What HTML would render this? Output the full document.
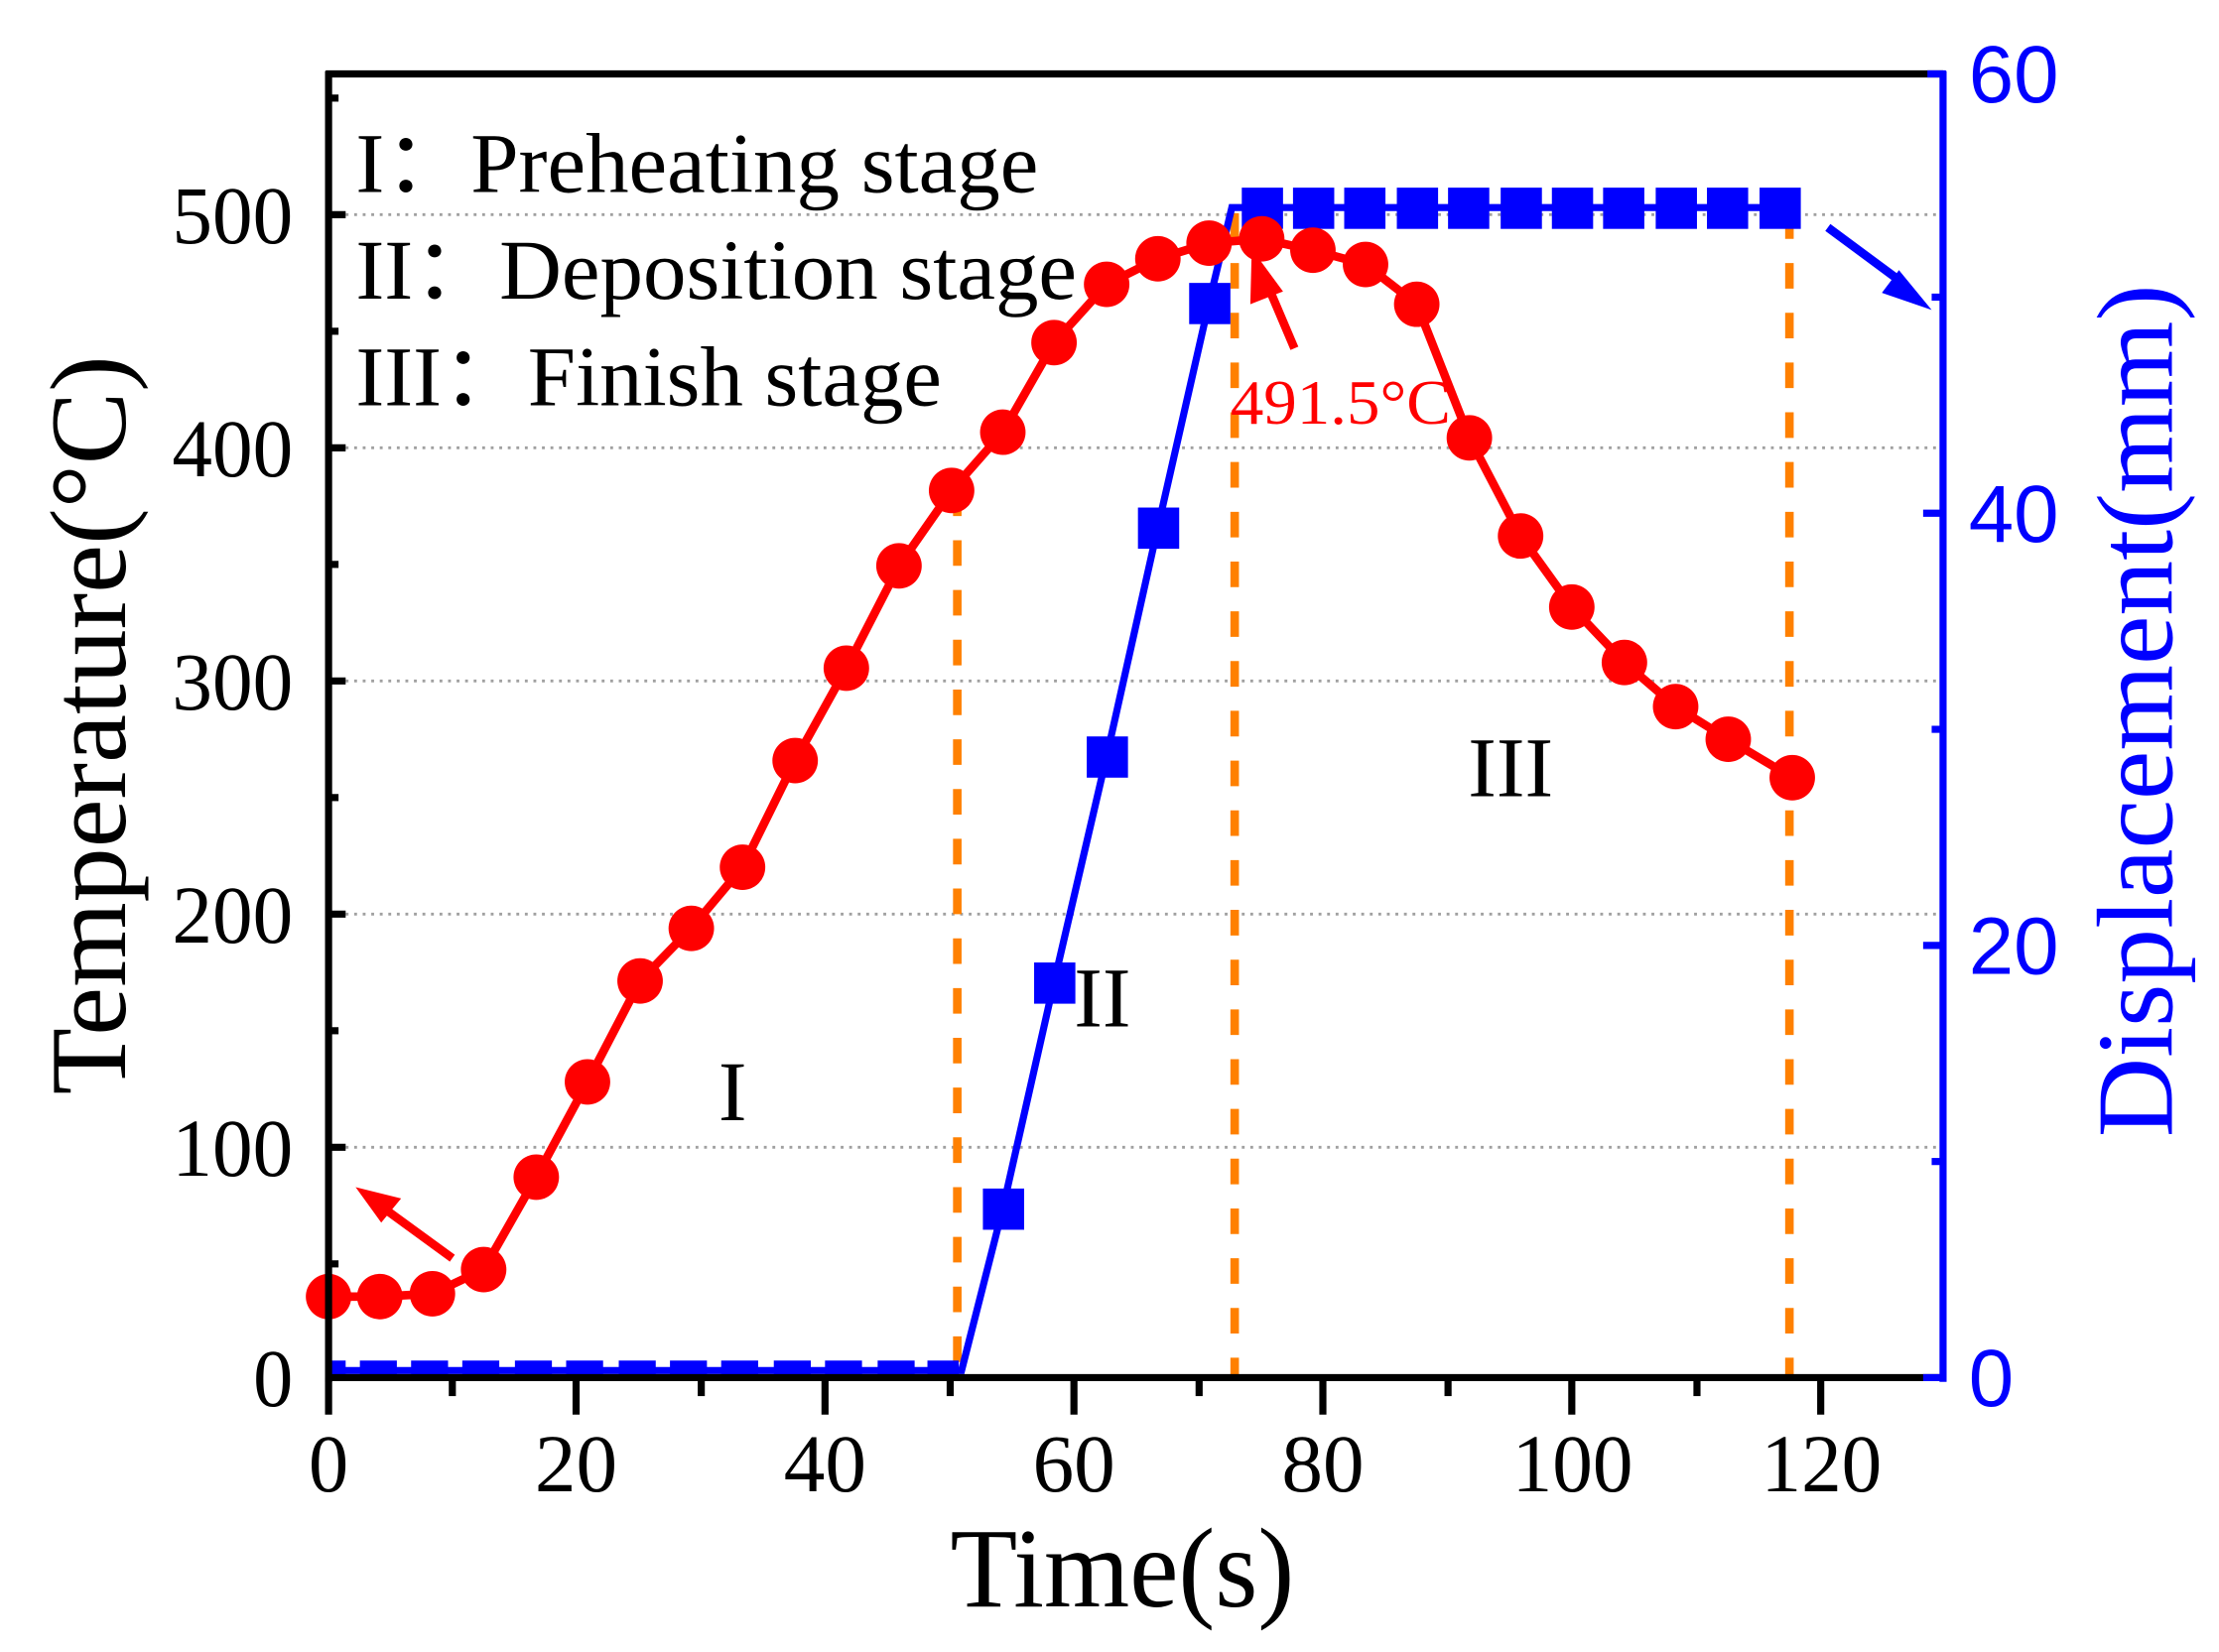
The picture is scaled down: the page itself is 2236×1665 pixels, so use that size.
<!DOCTYPE html>
<html><head><meta charset="utf-8"><style>html,body{margin:0;padding:0;background:#fff}svg{display:block}</style></head>
<body>
<svg width="2236" height="1665" viewBox="0 0 1560 1162" preserveAspectRatio="none" xmlns="http://www.w3.org/2000/svg">
<rect width="1560" height="1162" fill="#fff"/>
<g stroke="#a0a0a0" stroke-width="2" stroke-dasharray="2,4">
<line x1="231" x2="1366" y1="151" y2="151"/>
<line x1="231" x2="1366" y1="315" y2="315"/>
<line x1="231" x2="1366" y1="479" y2="479"/>
<line x1="231" x2="1366" y1="643" y2="643"/>
<line x1="231" x2="1366" y1="807" y2="807"/>
</g>
<g stroke="#ff8000" stroke-width="6" stroke-dasharray="18,17">
<line x1="673" x2="673" y1="345" y2="969"/>
<line x1="868" x2="868" y1="150" y2="969"/>
<line x1="1258" x2="1258" y1="150" y2="969"/>
</g>
<polyline fill="none" stroke="#0000ff" stroke-width="5" points="231,964 676,964 705,850 741,691 778,532 814,371 850,213 866,146 1255,146"/>
<g fill="#0000ff">
<rect x="231" y="957" width="12" height="14"/>
<rect x="253" y="957" width="26" height="14"/><rect x="289" y="957" width="26" height="14"/><rect x="325" y="957" width="26" height="14"/><rect x="362" y="957" width="26" height="14"/><rect x="398" y="957" width="26" height="14"/><rect x="435" y="957" width="26" height="14"/><rect x="471" y="957" width="26" height="14"/><rect x="507" y="957" width="26" height="14"/><rect x="544" y="957" width="26" height="14"/><rect x="580" y="957" width="26" height="14"/><rect x="617" y="957" width="26" height="14"/><rect x="652" y="957" width="22" height="14"/>
<rect x="691" y="836" width="29" height="29"/><rect x="727" y="677" width="29" height="29"/><rect x="764" y="518" width="29" height="29"/><rect x="800" y="357" width="29" height="29"/><rect x="836" y="199" width="29" height="29"/>
<rect x="873" y="132" width="29" height="29"/><rect x="909" y="132" width="29" height="29"/><rect x="945" y="132" width="29" height="29"/><rect x="982" y="132" width="29" height="29"/><rect x="1018" y="132" width="29" height="29"/><rect x="1055" y="132" width="29" height="29"/><rect x="1091" y="132" width="29" height="29"/><rect x="1127" y="132" width="29" height="29"/><rect x="1164" y="132" width="29" height="29"/><rect x="1200" y="132" width="29" height="29"/><rect x="1237" y="132" width="29" height="29"/>
</g>
<polyline fill="none" stroke="#ff0000" stroke-width="6" stroke-linejoin="round" points="231,912 267,912 304,910 340,893 377,828 413,761 450,690 486,653 522,610 559,535 595,470 632,398 669,345 705,304 741,241 778,200 814,182 850,171 887,168 923,176 960,186 996,214 1033,308 1069,377 1105,427 1142,466 1178,497 1215,520 1260,547"/>
<g fill="#ff0000">
<circle cx="231" cy="912" r="16"/><circle cx="267" cy="912" r="16"/><circle cx="304" cy="910" r="16"/><circle cx="340" cy="893" r="16"/><circle cx="377" cy="828" r="16"/><circle cx="413" cy="761" r="16"/><circle cx="450" cy="690" r="16"/><circle cx="486" cy="653" r="16"/><circle cx="522" cy="610" r="16"/><circle cx="559" cy="535" r="16"/><circle cx="595" cy="470" r="16"/><circle cx="632" cy="398" r="16"/><circle cx="669" cy="345" r="16"/><circle cx="705" cy="304" r="16"/><circle cx="741" cy="241" r="16"/><circle cx="778" cy="200" r="16"/><circle cx="814" cy="182" r="16"/><circle cx="850" cy="171" r="16"/><circle cx="887" cy="168" r="16"/><circle cx="923" cy="176" r="16"/><circle cx="960" cy="186" r="16"/><circle cx="996" cy="214" r="16"/><circle cx="1033" cy="308" r="16"/><circle cx="1069" cy="377" r="16"/><circle cx="1105" cy="427" r="16"/><circle cx="1142" cy="466" r="16"/><circle cx="1178" cy="497" r="16"/><circle cx="1215" cy="520" r="16"/><circle cx="1260" cy="547" r="16"/>
</g>
<line x1="318" y1="885" x2="270" y2="850" stroke="#ff0000" stroke-width="6"/>
<polygon points="250,835 282,843 268,860" fill="#ff0000"/>
<line x1="910" y1="245" x2="893" y2="205" stroke="#ff0000" stroke-width="6"/>
<polygon points="880,175 879,214 902,205" fill="#ff0000"/>
<line x1="1285" y1="160" x2="1335" y2="197" stroke="#0000ff" stroke-width="6"/>
<polygon points="1358,218 1323,206 1335,190" fill="#0000ff"/>
<line x1="229" y1="52" x2="1366" y2="52" stroke="#000" stroke-width="5"/>
<line x1="231" y1="50" x2="231" y2="972" stroke="#000" stroke-width="5"/>
<line x1="229" y1="969" x2="1366" y2="969" stroke="#000" stroke-width="5"/>
<line x1="1366" y1="50" x2="1366" y2="972" stroke="#0000ff" stroke-width="5"/>
<line x1="1355" y1="52" x2="1368" y2="52" stroke="#0000ff" stroke-width="5"/>
<g stroke="#000" stroke-width="5">
<line x1="231" y1="969" x2="231" y2="995"/><line x1="405" y1="969" x2="405" y2="995"/><line x1="580" y1="969" x2="580" y2="995"/><line x1="755" y1="969" x2="755" y2="995"/><line x1="930" y1="969" x2="930" y2="995"/><line x1="1105" y1="969" x2="1105" y2="995"/><line x1="1280" y1="969" x2="1280" y2="995"/>
<line x1="318" y1="969" x2="318" y2="982"/><line x1="493" y1="969" x2="493" y2="982"/><line x1="668" y1="969" x2="668" y2="982"/><line x1="843" y1="969" x2="843" y2="982"/><line x1="1018" y1="969" x2="1018" y2="982"/><line x1="1193" y1="969" x2="1193" y2="982"/>
</g>
<g stroke="#000" stroke-width="5">
<line x1="231" y1="151" x2="243" y2="151"/><line x1="231" y1="315" x2="243" y2="315"/><line x1="231" y1="479" x2="243" y2="479"/><line x1="231" y1="643" x2="243" y2="643"/><line x1="231" y1="807" x2="243" y2="807"/>
<line x1="231" y1="69" x2="238" y2="69"/><line x1="231" y1="233" x2="238" y2="233"/><line x1="231" y1="397" x2="238" y2="397"/><line x1="231" y1="561" x2="238" y2="561"/><line x1="231" y1="725" x2="238" y2="725"/><line x1="231" y1="889" x2="238" y2="889"/>
</g>
<g stroke="#0000ff" stroke-width="5">
<line x1="1352" y1="361" x2="1366" y2="361"/><line x1="1352" y1="665" x2="1366" y2="665"/><line x1="1352" y1="969" x2="1366" y2="969"/>
<line x1="1358" y1="209" x2="1366" y2="209"/><line x1="1358" y1="513" x2="1366" y2="513"/><line x1="1358" y1="817" x2="1366" y2="817"/>
</g>
<g font-family="Liberation Serif, serif" font-size="58" fill="#000" lengthAdjust="spacingAndGlyphs">
<text x="217" y="1049" textLength="28" lengthAdjust="spacingAndGlyphs">0</text>
<text x="376" y="1049" textLength="58" lengthAdjust="spacingAndGlyphs">20</text>
<text x="551" y="1049" textLength="58" lengthAdjust="spacingAndGlyphs">40</text>
<text x="726" y="1049" textLength="58" lengthAdjust="spacingAndGlyphs">60</text>
<text x="901" y="1049" textLength="58" lengthAdjust="spacingAndGlyphs">80</text>
<text x="1063" y="1049" textLength="85" lengthAdjust="spacingAndGlyphs">100</text>
<text x="1238" y="1049" textLength="85" lengthAdjust="spacingAndGlyphs">120</text>
<text x="178" y="989" textLength="28" lengthAdjust="spacingAndGlyphs">0</text>
<text x="121" y="827" textLength="85" lengthAdjust="spacingAndGlyphs">100</text>
<text x="121" y="663" textLength="85" lengthAdjust="spacingAndGlyphs">200</text>
<text x="121" y="499" textLength="85" lengthAdjust="spacingAndGlyphs">300</text>
<text x="121" y="335" textLength="85" lengthAdjust="spacingAndGlyphs">400</text>
<text x="121" y="171" textLength="85" lengthAdjust="spacingAndGlyphs">500</text>
</g>
<g font-family="Liberation Sans, sans-serif" font-size="57" fill="#0000ff">
<text x="1384" y="72">60</text><text x="1384" y="381">40</text><text x="1384" y="685">20</text><text x="1384" y="989">0</text>
</g>
<text x="668" y="1130" font-family="Liberation Serif, serif" font-size="80" textLength="242" lengthAdjust="spacingAndGlyphs">Time(s)</text>
<text transform="translate(88,510) rotate(-90)" font-family="Liberation Serif, serif" font-size="76" text-anchor="middle" textLength="520" lengthAdjust="spacingAndGlyphs">Temperature(°C)</text>
<text transform="translate(1527,500) rotate(-90)" font-family="Liberation Serif, serif" font-size="76" fill="#0000ff" text-anchor="middle" textLength="600" lengthAdjust="spacingAndGlyphs">Displacement(mm)</text>
<g font-family="Liberation Serif, serif" font-size="60" fill="#000">
<text x="250" y="135" textLength="480" lengthAdjust="spacingAndGlyphs">I：Preheating stage</text>
<text x="250" y="210" textLength="507" lengthAdjust="spacingAndGlyphs">II：Deposition stage</text>
<text x="250" y="285" textLength="412" lengthAdjust="spacingAndGlyphs">III：Finish stage</text>
<text x="515" y="788" text-anchor="middle">I</text>
<text x="775" y="722" text-anchor="middle">II</text>
<text x="1062" y="560" text-anchor="middle">III</text>
</g>
<text x="865" y="298" font-family="Liberation Serif, serif" font-size="44" fill="#ff0000" textLength="155" lengthAdjust="spacingAndGlyphs">491.5°C</text>
</svg>
</body></html>
